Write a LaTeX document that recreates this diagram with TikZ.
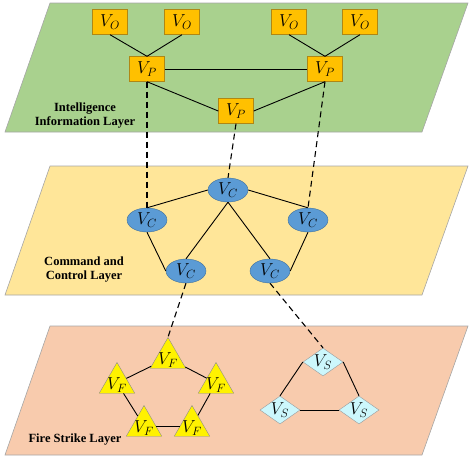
\documentclass[tikz,border=0pt]{standalone}
\usepackage{amsmath}
\usepackage{fontspec}
\setmainfont{Liberation Serif}
\usepackage{tikz}
\usetikzlibrary{shapes.geometric}

\definecolor{infogreen}{RGB}{169,209,142}
\definecolor{ctrlyellow}{RGB}{255,230,153}
\definecolor{firepink}{RGB}{248,203,173}
\definecolor{boxorange}{RGB}{255,192,0}
\definecolor{boxedge}{RGB}{175,135,20}
\definecolor{ctrlblue}{RGB}{91,155,213}
\definecolor{ctrledge}{RGB}{65,113,156}
\definecolor{strikecyan}{RGB}{204,247,252}

\begin{document}
\begin{tikzpicture}[x=1pt,y=-1pt]

	\tikzstyle layer plane=[draw=black!35, line width=0.6pt];
	\tikzstyle layer title=[font=\fontsize{12.5}{14}\selectfont\bfseries, align=center];
	\tikzstyle link lines=[line width=0.9pt];
	\tikzstyle cross lines=[line width=1.1pt, dash pattern=on 6pt off 4pt];
	\tikzstyle info box=[rectangle, draw=boxedge, fill=boxorange, minimum width=35pt, minimum height=25pt, inner sep=0pt, font=\fontsize{18}{20}\selectfont];
	\tikzstyle ctrl node=[ellipse, draw=ctrledge, fill=ctrlblue, minimum width=40pt, minimum height=24pt, inner sep=0pt, font=\fontsize{18}{20}\selectfont];
	\tikzstyle fire node=[regular polygon, regular polygon sides=3, draw=black!45, fill=yellow, minimum size=41pt, inner sep=0pt, label={[font=\fontsize{18}{20}\selectfont, yshift=-2pt]center:$V_F$}];
	\tikzstyle strike node=[diamond, draw=black!40, fill=strikecyan, minimum width=40pt, minimum height=28pt, inner sep=0pt, label={[font=\fontsize{18}{20}\selectfont]center:$V_S$}];

	\useasboundingbox (0,0) rectangle (474,459);

	% the three layers
	\foreach \y/\col in {3/infogreen,166/ctrlyellow,326/firepink}
		\draw[layer plane, fill=\col] (50,\y) -- ++(418,0) -- ++(-46,129) -- ++(-417,0) -- cycle;

	\node[layer title] (infotitle) at (85,116) {Intelligence\\Information Layer};
	\node[layer title] (ctrltitle) at (84,270) {Command and\\Control Layer};
	\node[layer title] (firetitle) at (75,440) {Fire Strike Layer};

	% intelligence information layer
	\foreach \x/\n in {110/1,182/2,289/3,360/4}
		\node[info box] (vo\n) at (\x,22) {$V_O$};
	\node[info box] (vp1) at (147,69) {$V_P$};
	\node[info box] (vp2) at (325,69) {$V_P$};
	\node[info box] (vp3) at (236,111) {$V_P$};

	\draw[link lines] (vo1.south) -- (vp1.north);
	\draw[link lines] (vo2.south) -- (vp1.north);
	\draw[link lines] (vo3.south) -- (vp2.north);
	\draw[link lines] (vo4.south) -- (vp2.north);
	\draw[link lines] (vp1.east) -- (vp2.west);
	\draw[link lines] (vp1.south) -- (vp3.west);
	\draw[link lines] (vp2.south) -- (vp3.east);

	% command and control layer
	\node[ctrl node] (vc1) at (228,190) {$V_C$};
	\node[ctrl node] (vc2) at (147,220) {$V_C$};
	\node[ctrl node] (vc3) at (308,220) {$V_C$};
	\node[ctrl node] (vc4) at (186,271) {$V_C$};
	\node[ctrl node] (vc5) at (270,271) {$V_C$};

	\draw[link lines] (vc1.west) -- (vc2.north);
	\draw[link lines] (vc1.east) -- (vc3.north);
	\draw[link lines] (vc1.south) -- (vc4.north);
	\draw[link lines] (vc1.south) -- (vc5.north);
	\draw[link lines] (vc2.south) -- (vc4.west);
	\draw[link lines] (vc3.south) -- (vc5.east);

	% fire strike layer
	\node[fire node] (vf1) at (168,358) {};
	\node[fire node] (vf2) at (117,383) {};
	\node[fire node] (vf3) at (216,383) {};
	\node[fire node] (vf4) at (144,426) {};
	\node[fire node] (vf5) at (192,426) {};

	\draw[link lines] (vf2) -- (vf1);
	\draw[link lines] (vf1) -- (vf3);
	\draw[link lines] (vf2) -- (vf4);
	\draw[link lines] (vf3) -- (vf5);
	\draw[link lines] (vf4) -- (vf5);

	\node[strike node] (vs1) at (323,362) {};
	\node[strike node] (vs2) at (280,410) {};
	\node[strike node] (vs3) at (359,410) {};

	\draw[link lines] (vs1.west) -- (vs2.north);
	\draw[link lines] (vs1.east) -- (vs3.north);
	\draw[link lines] (vs2.east) -- (vs3.west);

	% links between layers
	\draw[cross lines] (vp1.south) -- (vc2.north);
	\draw[cross lines] (vp3.south) -- (vc1.north);
	\draw[cross lines] (vp2.south) -- (vc3.north);
	\draw[cross lines] (vc4.south) -- (vf1.corner 1);
	\draw[cross lines] (vc5.south) -- (vs1.north);

\end{tikzpicture}
\end{document}
